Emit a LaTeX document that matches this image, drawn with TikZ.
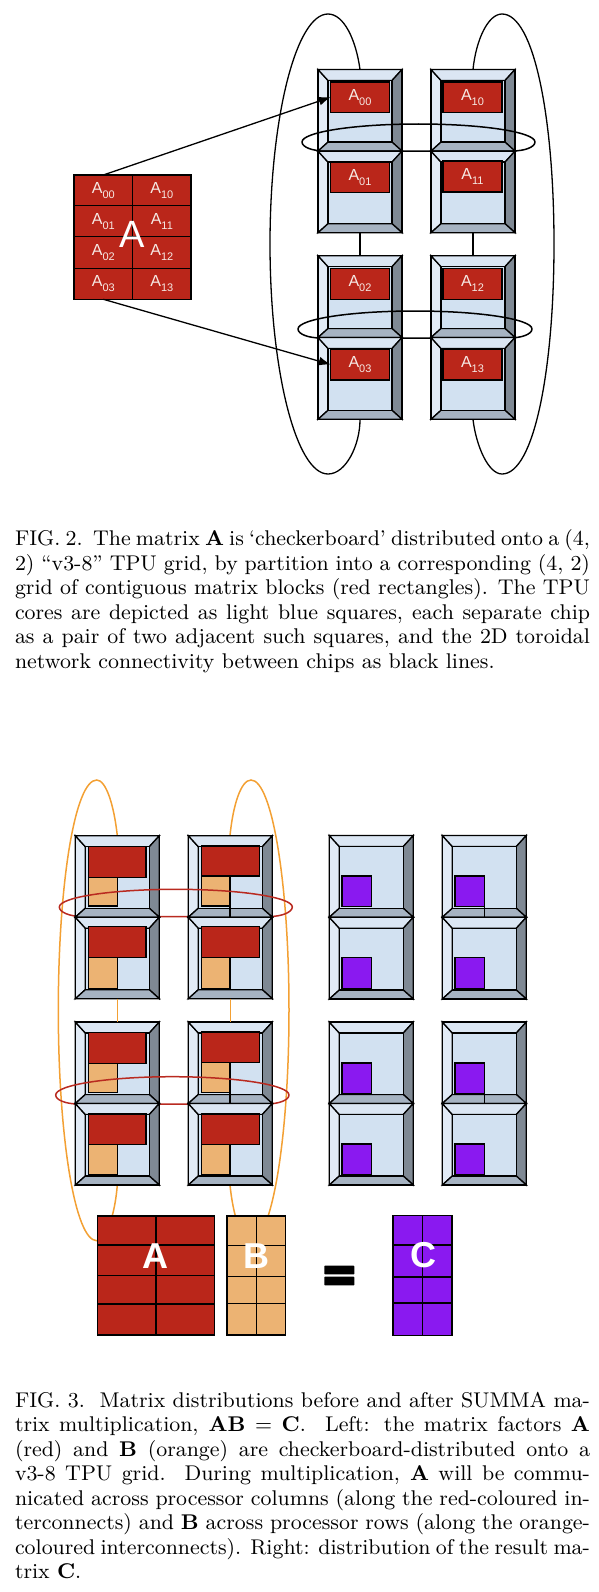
\documentclass[tikz,border=0pt]{standalone}
\usepackage{fontspec}
\setsansfont{Liberation Sans}
\newfontfamily\capfont[Ligatures=TeX,BoldFont=lmroman9-bold.otf]{lmroman9-regular.otf}
\definecolor{redm}{HTML}{BA261A}
\definecolor{orgm}{HTML}{ECB373}
\definecolor{purm}{HTML}{8A19F0}
\definecolor{coreb}{HTML}{D2E1F1}
\definecolor{bevt}{HTML}{DBE6F3}
\definecolor{bevl}{HTML}{E2EBF6}
\definecolor{bevr}{HTML}{7F8994}
\definecolor{bevb}{HTML}{A6B3C2}
\definecolor{orgl}{HTML}{F3A033}
\definecolor{redl}{HTML}{B92A20}
\definecolor{labc}{HTML}{F6E9E4}
\usetikzlibrary{arrows.meta}
\tikzset{
  lw/.style={line width=1.3pt},
  lwc/.style={line width=1.5pt},
  blk/.style={draw=black,lw,inner sep=0pt,outer sep=0pt,fill=#1},
  chipbox/.style={draw=black,lw,inner sep=0pt,outer sep=0pt,minimum width=84pt},
  link/.style={draw=black,lw},
  olink/.style={draw=orgl,lwc},
  arr/.style={draw=black,lw,-{Latex[length=12pt,width=9pt]}},
  captext/.style={inner sep=0pt,outer sep=0pt,anchor=north west,text width=575pt,align=justify,font=\capfont\fontsize{21.3}{24.5}\selectfont},
  biglab/.style={inner sep=0pt,text=white,font=\sffamily\fontsize{38}{38}\selectfont},
  boldlab/.style={inner sep=0pt,text=white,font=\sffamily\bfseries\fontsize{36}{36}\selectfont},
}
\newcommand{\blkat}[7][]{% name x0 y0 x1 y1 fill text
  \pgfmathsetmacro\bw{#5-#3}\pgfmathsetmacro\bh{#6-#4}%
  \pgfmathsetmacro\cx{(#5+#3)/2}\pgfmathsetmacro\cy{(#6+#4)/2}%
  \node[blk=#7,minimum width=\bw pt,minimum height=\bh pt,#1] (#2) at (\cx,\cy) {};}
\newcommand{\lab}[3]{\node[text=labc,inner sep=0pt,font=\sffamily\fontsize{16}{16}\selectfont] (#1-t) at (#1) {A\raisebox{-5pt}{\fontsize{11}{11}\selectfont #2}};}
\newcommand{\corecell}[3]{% x ytop h
  \pgfmathsetmacro\xa{#1}\pgfmathsetmacro\xb{#1+10}\pgfmathsetmacro\xc{#1+74}\pgfmathsetmacro\xd{#1+84}%
  \pgfmathsetmacro\ya{#2}\pgfmathsetmacro\yb{#2+11}\pgfmathsetmacro\yc{#2+#3-9}\pgfmathsetmacro\yd{#2+#3}%
  \filldraw[lw,fill=bevl] (\xa,\ya)--(\xb,\yb)--(\xb,\yc)--(\xa,\yd)--cycle;
  \filldraw[lw,fill=bevt] (\xa,\ya)--(\xd,\ya)--(\xc,\yb)--(\xb,\yb)--cycle;
  \filldraw[lw,fill=bevr] (\xd,\ya)--(\xd,\yd)--(\xc,\yc)--(\xc,\yb)--cycle;
  \filldraw[lw,fill=bevb] (\xa,\yd)--(\xb,\yc)--(\xc,\yc)--(\xd,\yd)--cycle;
  \filldraw[lw,fill=coreb] (\xb,\yb) rectangle (\xc,\yc);}
\newcommand{\chip}[4]{% name x ytop ybot
  \pgfmathsetmacro\hh{(#4-#3)/2}\pgfmathsetmacro\ym{(#4+#3)/2}\pgfmathsetmacro\xm{#2+42}\pgfmathsetmacro\hf{#4-#3}%
  \corecell{#2}{#3}{\hh}\corecell{#2}{\ym}{\hh}%
  \node[chipbox,minimum height=\hf pt] (#1) at (\xm,\ym) {};}
\newcommand{\ringback}[6]{% color l r y top bot
  \pgfmathsetmacro\pa{#2+10}\pgfmathsetmacro\pb{#2+23}\pgfmathsetmacro\pc{#3-23}\pgfmathsetmacro\pd{#3-10}\pgfmathsetmacro\pe{#4+5}%
  \draw[#1,lwc] (#2,#4) .. controls (#2,\pe) and (\pa,#6) .. (\pb,#6) -- (\pc,#6) .. controls (\pd,#6) and (#3,\pe) .. (#3,#4);}
\newcommand{\ringfront}[6]{%
  \pgfmathsetmacro\mx{(#2+#3)/2}\pgfmathsetmacro\ka{\mx-0.55*(#3-#2)/2}\pgfmathsetmacro\kb{\mx+0.55*(#3-#2)/2}\pgfmathsetmacro\ke{#4-0.55*(#4-#5)}%
  \draw[#1,lwc] (#2,#4) .. controls (#2,\ke) and (\ka,#5) .. (\mx,#5) .. controls (\kb,#5) and (#3,\ke) .. (#3,#4);}
\newcommand{\ro}[7]{% name x0 x1 xm y0 y1 y2
  \blkat{#1r}{#2}{#5}{#3}{#6}{redm}\blkat{#1o}{#2}{#6}{#4}{#7}{orgm}}
\begin{document}
\begin{tikzpicture}[x=1pt,y=-1pt]
\useasboundingbox (0,0) rectangle (598,1592);
% ---------- FIG 2 ----------
\coordinate (cp00) at (360,69.5);\coordinate (cp01) at (360,419.5);
\coordinate (cp10) at (473,69.5);\coordinate (cp11) at (473,419.5);
\draw[link] (cp00) .. controls (356,40) and (344,14) .. (328,14) .. controls (296,14) and (270,118) .. (270,244) .. controls (270,370) and (296,474) .. (328,474) .. controls (346,474) and (360,445) .. (cp01);
\draw[link] (cp10) .. controls (476,40) and (488,14) .. (502,14) .. controls (534,14) and (554,118) .. (554,244) .. controls (554,370) and (534,474) .. (502,474) .. controls (488,474) and (476,445) .. (cp11);
\ringback{black}{302}{535}{142}{124}{151}
\ringback{black}{298}{532}{329}{311}{338}
\chip{a00}{318}{69.5}{232.7}
\chip{a10}{431}{69.5}{232.7}
\chip{a01}{318}{255.7}{419.3}
\chip{a11}{431}{255.7}{419.3}
\draw[link] (a00.south) -- (a01.north);
\draw[link] (a10.south) -- (a11.north);
\blkat{p00}{330.7}{82}{389.3}{112.3}{redm}\lab{p00}{00}{}
\blkat{p01}{330.7}{162.3}{389.3}{192.7}{redm}\lab{p01}{01}{}
\blkat{p02}{330.7}{268.3}{389.3}{299.3}{redm}\lab{p02}{02}{}
\blkat{p03}{330.7}{349}{389.3}{380}{redm}\lab{p03}{03}{}
\blkat{p10}{443}{82}{502}{112.3}{redm}\lab{p10}{10}{}
\blkat{p11}{443}{161}{502}{192}{redm}\lab{p11}{11}{}
\blkat{p12}{443}{268.3}{502}{299.3}{redm}\lab{p12}{12}{}
\blkat{p13}{443}{349}{502}{380}{redm}\lab{p13}{13}{}
\ringfront{black}{302}{535}{142}{124}{151}
\ringfront{black}{298}{532}{329}{311}{338}
\blkat{m00}{74}{175}{132.7}{205.7}{redm}\lab{m00}{00}{}
\blkat{m10}{132.7}{175}{191}{205.7}{redm}\lab{m10}{10}{}
\blkat{m01}{74}{205.7}{132.7}{236.7}{redm}\lab{m01}{01}{}
\blkat{m11}{132.7}{205.7}{191}{236.7}{redm}\lab{m11}{11}{}
\blkat{m02}{74}{236.7}{132.7}{268.3}{redm}\lab{m02}{02}{}
\blkat{m12}{132.7}{236.7}{191}{268.3}{redm}\lab{m12}{12}{}
\blkat{m03}{74}{268.3}{132.7}{299.3}{redm}\lab{m03}{03}{}
\blkat{m13}{132.7}{268.3}{191}{299.3}{redm}\lab{m13}{13}{}
\node[biglab] (bigA) at (131.7,234.5) {A};
\draw[arr] (m00.north) -- (p00.west);
\draw[arr] (m03.south) -- (p03.west);
\node[captext] (cap2) at (15,530) {FIG. 2.\ \ The matrix \textbf{A} is ‘checkerboard’ distributed onto a (4,\linebreak 2) “v3-8” TPU grid, by partition into a corresponding (4, 2)\linebreak grid of contiguous matrix blocks (red rectangles). The TPU\linebreak cores are depicted as light blue squares, each separate chip\linebreak as a pair of two adjacent such squares, and the 2D toroidal\linebreak network connectivity between chips as black lines.};
% ---------- FIG 3 ----------
\coordinate (q00) at (117.3,835.7);\coordinate (q01) at (117.3,1185);
\coordinate (q10) at (230,835.7);\coordinate (q11) at (230,1185);
\draw[olink] (q00) .. controls (114,805) and (106,780) .. (96.7,780) .. controls (75,780) and (58.3,883) .. (58.3,1010) .. controls (58.3,1137) and (75,1240.7) .. (96.7,1240.7) .. controls (106,1240.7) and (115,1215) .. (q01);
\draw[olink] (q10) .. controls (233,805) and (241,780) .. (251,780) .. controls (272,780) and (289,883) .. (289,1010) .. controls (289,1137) and (272,1240.7) .. (251,1240.7) .. controls (241,1240.7) and (233,1215) .. (q11);
\ringback{redl}{59.3}{292.3}{907}{889.3}{916.5}
\ringback{redl}{55.7}{289}{1095}{1076.7}{1104}
\chip{b00}{75.3}{835.7}{998.7}
\chip{b10}{188.3}{835.7}{998.7}
\chip{b01}{75.3}{1022}{1185}
\chip{b11}{188.3}{1022}{1185}
\draw[olink] (b00.south) -- (b01.north);
\draw[olink] (b10.south) -- (b11.north);
\ro{s00}{88.7}{146}{117.3}{846.7}{877.3}{906}
\ro{s01}{88.7}{146}{117.3}{926.7}{957.7}{988.3}
\ro{s02}{88.7}{146}{117.3}{1032.7}{1063.3}{1092.7}
\ro{s03}{88.7}{146}{117.3}{1114}{1144.3}{1174.7}
\ro{s10}{201.7}{259.3}{230}{846}{876}{906}
\ro{s11}{201.7}{259.3}{230}{926.7}{957.7}{988.3}
\ro{s12}{201.7}{259.3}{230}{1032}{1062.3}{1092.7}
\ro{s13}{201.7}{259.3}{230}{1114}{1144.3}{1174.7}
\draw[link] (s10o.south east) -- ++(0,10.7);
\draw[link] (s12o.south east) -- ++(0,11);
\ringfront{redl}{59.3}{292.3}{907}{889.3}{916.5}
\ringfront{redl}{55.7}{289}{1095}{1076.7}{1104}
\chip{d00}{329.3}{835.5}{999}
\chip{d10}{442.3}{835.5}{999}
\chip{d01}{329.3}{1022}{1185}
\chip{d11}{442.3}{1022}{1185}
\blkat{u00}{342}{876}{371.3}{906.7}{purm}
\blkat{u01}{342}{957.3}{371.3}{988.7}{purm}
\blkat{u02}{342}{1063}{371.3}{1093.5}{purm}
\blkat{u03}{342}{1144}{371.3}{1175}{purm}
\blkat{u10}{455}{876}{484.3}{906.7}{purm}
\blkat{u11}{455}{957.3}{484.3}{988.7}{purm}
\blkat{u12}{455}{1063}{484.3}{1093.5}{purm}
\blkat{u13}{455}{1144}{484.3}{1175}{purm}
\draw[link] (u10.south east) -- ++(0,10);
\draw[link] (u12.south east) -- ++(0,10.2);
% result matrices
\foreach \n/\ya/\yb in {0/1216/1245,1/1245/1275.7,2/1275.7/1304,3/1304/1335}{
  \blkat{A0\n}{97.7}{\ya}{156}{\yb}{redm}
  \blkat{A1\n}{156}{\ya}{214.7}{\yb}{redm}
}
\foreach \n/\ya/\yb in {0/1216/1245.7,1/1245.7/1276.7,2/1276.7/1303.3,3/1303.3/1335}{
  \blkat{B0\n}{227}{\ya}{256.3}{\yb}{orgm}
  \blkat{B1\n}{256.3}{\ya}{285.7}{\yb}{orgm}
}
\foreach \n/\ya/\yb in {0/1215.7/1245,1/1245/1277,2/1277/1303,3/1303/1335.3}{
  \blkat{C0\n}{393}{\ya}{422.3}{\yb}{purm}
  \blkat{C1\n}{422.3}{\ya}{452}{\yb}{purm}
}
\node[boldlab] (Al) at (155,1256) {A};
\node[boldlab] (Bl) at (256.7,1256) {B};
\node[boldlab] (Cl) at (423.3,1255) {C};
\fill[black,rounded corners=0.6pt] (324.3,1265.7) rectangle (354.3,1274.3);
\fill[black,rounded corners=0.6pt] (324.3,1276.7) rectangle (354.3,1285.3);
\node[captext] (cap3) at (15,1392) {FIG. 3.\ \ Matrix distributions before and after SUMMA ma-\linebreak trix multiplication, \textbf{AB} = \textbf{C}.\ \ Left: the matrix factors \textbf{A}\linebreak (red) and \textbf{B} (orange) are checkerboard-distributed onto a\linebreak v3-8 TPU grid.\ \ During multiplication, \textbf{A} will be commu-\linebreak nicated across processor columns (along the red-coloured in-\linebreak terconnects) and \textbf{B} across processor rows (along the orange-\linebreak coloured interconnects). Right: distribution of the result ma-\linebreak trix \textbf{C}.};
\end{tikzpicture}
\end{document}
